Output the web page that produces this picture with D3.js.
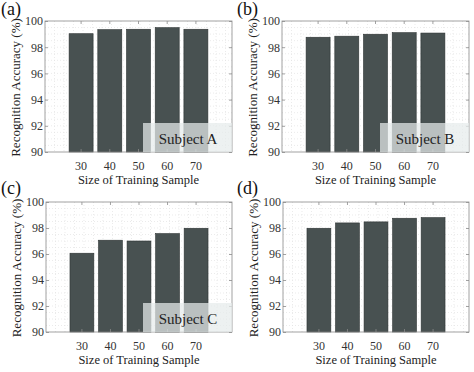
<!DOCTYPE html>
<html>
<head>
<meta charset="utf-8">
<script src="https://cdn.jsdelivr.net/npm/d3@7"></script>
</head>
<body style="margin:0; background:#fff">
<svg id="chart" width="474" height="372"></svg>
<script>
// Données
const sampleSizes = [30, 40, 50, 60, 70]
const yTicks = [90, 92, 94, 96, 98, 100]
const accA = [99.03, 99.34, 99.37, 99.49, 99.37]
const accB = [98.76, 98.84, 98.99, 99.11, 99.08]
const accC = [96.06, 97.06, 97.0, 97.57, 97.98]
const accD = [97.98, 98.39, 98.47, 98.75, 98.8]
const panelLabels = ["(a)", "(b)", "(c)", "(d)"]
const subjects = ["Subject A", "Subject B", "Subject C", ""]

const serif = '"Liberation Serif", "Times New Roman", serif'
const svg = d3.select("#chart")

// position de chaque zone de tracé
const panels = [
    {vals: accA, left: 45, right: 232, top: 21, bottom: 152, lx: 1, ly: 15},
    {vals: accB, left: 282, right: 469, top: 21, bottom: 152, lx: 237, ly: 15},
    {vals: accC, left: 46, right: 232, top: 202, bottom: 332, lx: 1, ly: 194},
    {vals: accD, left: 283, right: 469, top: 202, bottom: 332, lx: 237, ly: 194}
]

panels.forEach((p, i) => {
    const g = svg.append("g")

    const x = d3.scaleBand()
                .domain(sampleSizes)
                .range([p.left, p.right])
                .paddingInner(0.164)
                .paddingOuter(0.84)

    const y = d3.scaleLinear()
                .domain([90, 100])
                .range([p.bottom, p.top])

    // grille mineure pointillée
    const minorY = d3.range(90.5, 100, 0.5)
    g.append("g").selectAll("line")
     .data(minorY)
     .join("line")
     .attr("x1", p.left).attr("x2", p.right)
     .attr("y1", d => y(d)).attr("y2", d => y(d))
     .attr("stroke", "#e2e2e2")
     .attr("stroke-width", 0.7)
     .attr("stroke-dasharray", "1,2")

    const minorX = d3.range(p.left + 9.5, p.right, 9.5)
    g.append("g").selectAll("line")
     .data(minorX)
     .join("line")
     .attr("x1", d => d).attr("x2", d => d)
     .attr("y1", p.top).attr("y2", p.bottom)
     .attr("stroke", "#e2e2e2")
     .attr("stroke-width", 0.7)
     .attr("stroke-dasharray", "1,2")

    // barres
    g.append("g").selectAll("rect")
     .data(p.vals)
     .join("rect")
     .attr("x", (d, j) => x(sampleSizes[j]))
     .attr("width", x.bandwidth())
     .attr("y", d => y(d))
     .attr("height", d => p.bottom - y(d))
     .attr("fill", "#485151")
     .attr("stroke", "#2c3232")
     .attr("stroke-width", 0.6)

    // cadre
    g.append("rect")
     .attr("x", p.left).attr("y", p.top)
     .attr("width", p.right - p.left).attr("height", p.bottom - p.top)
     .attr("fill", "none")
     .attr("stroke", "#8a8a8a")
     .attr("stroke-width", 0.8)

    // axes
    g.append("g")
     .attr("transform", `translate(${p.left},0)`)
     .call(d3.axisLeft(y).tickValues(yTicks).tickSize(-3).tickPadding(2))
    g.append("g")
     .attr("transform", `translate(0,${p.bottom})`)
     .call(d3.axisBottom(x).tickSize(-3).tickPadding(9))
    g.append("g")
     .attr("transform", `translate(0,${p.top})`)
     .call(d3.axisTop(x).tickSize(-3).tickFormat(""))
    g.append("g")
     .attr("transform", `translate(${p.right},0)`)
     .call(d3.axisRight(y).tickValues(yTicks).tickSize(-3).tickFormat(""))

    g.selectAll(".domain").remove()
    g.selectAll(".tick line").attr("stroke", "#8a8a8a").attr("stroke-width", 0.8)
    g.selectAll(".tick text")
     .style("font-family", serif)
     .style("font-size", "12px")
     .attr("fill", "#333")

    // légende "Subject"
    if (subjects[i] !== "") {
        const bx = p.right - 89
        const by = p.bottom - 29
        g.append("rect")
         .attr("x", bx).attr("y", by)
         .attr("width", 89).attr("height", 29)
         .attr("fill", "rgb(230,235,235)")
         .attr("fill-opacity", 0.72)
        g.append("text")
         .attr("x", bx + 45).attr("y", by + 21)
         .attr("text-anchor", "middle")
         .style("font-family", serif)
         .style("font-size", "15px")
         .attr("fill", "#222")
         .text(subjects[i])
    }

    // titres des axes
    g.append("text")
     .attr("text-anchor", "middle")
     .attr("transform", `translate(${p.left - 25},${(p.top + p.bottom) / 2 + 1}) rotate(-90)`)
     .style("font-family", serif)
     .style("font-size", "13px")
     .attr("fill", "#222")
     .text("Recognition Accuracy (%)")

    g.append("text")
     .attr("text-anchor", "middle")
     .attr("x", (p.left + p.right) / 2)
     .attr("y", p.bottom + 32)
     .style("font-family", serif)
     .style("font-size", "12.5px")
     .attr("fill", "#222")
     .text("Size of Training Sample")

    g.append("text")
     .attr("x", p.lx).attr("y", p.ly)
     .style("font-family", serif)
     .style("font-size", "18px")
     .attr("fill", "#111")
     .text(panelLabels[i])
})
</script>
</body>
</html>
